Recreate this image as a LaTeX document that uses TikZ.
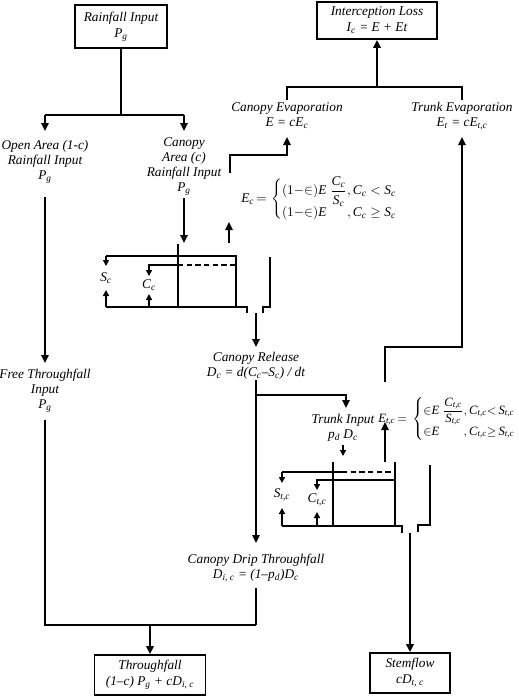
\documentclass[tikz,border=0pt]{standalone}
\usepackage{fontspec}
\setmainfont{Liberation Serif}
\usepackage{amsmath}
\usetikzlibrary{arrows.meta}
\newcommand{\mi}[1]{\text{\itshape #1}}
\newcommand{\ein}{\mathord{\in}}
\begin{document}
\begin{tikzpicture}[x=0.75pt,y=-0.75pt,
  lbl/.style={font=\itshape\fontsize{10}{11.3}\selectfont, align=center, inner sep=0pt},
  eqn/.style={font=\itshape\fontsize{10}{11}\selectfont, inner sep=0pt},
  tbox/.style={draw, line width=1.3pt, font=\itshape\fontsize{10}{12}\selectfont, align=center, inner sep=0pt},
  wall/.style={line width=1.1pt},
  flow/.style={line width=1.7pt, -{Triangle[length=6pt,width=5.5pt]}},
  small/.style={line width=1.3pt, -{Triangle[length=4.5pt,width=4.5pt]}},
  dashline/.style={line width=1.1pt, dash pattern=on 4pt off 2.5pt},
]
\useasboundingbox (0,0) rectangle (518,696);

% boxes
\node[tbox, minimum width=69pt, minimum height=32.25pt] (rain) at (121,26.5) {Rainfall Input\\P\textsubscript{g}};
\node[tbox, minimum width=90pt, minimum height=27.75pt] (inter) at (377,20.5) {Interception Loss\\I\textsubscript{c} = E + Et};
\node[tbox, minimum width=83.25pt, minimum height=30pt] (tf) at (150,675) {Throughfall\\(1--c) P\textsubscript{g} + cD\textsubscript{i, c}};
\node[tbox, minimum width=60pt, minimum height=30pt] (sf) at (410,673) {Stemflow\\cD\textsubscript{t, c}};

% labels
\node[lbl, anchor=north] (open) at (45,140) {Open Area (1-c)\\Rainfall Input\\P\textsubscript{g}};
\node[lbl, anchor=north] (canarea) at (184,137) {Canopy\\Area (c)\\Rainfall Input\\P\textsubscript{g}};
\node[lbl, anchor=north] (cevap) at (287,102) {Canopy Evaporation\\E = cE\textsubscript{c}};
\node[lbl, anchor=north] (tevap) at (462,102) {Trunk Evaporation\\E\textsubscript{t} = cE\textsubscript{t,c}};
\node[lbl, anchor=north] (crel) at (256,352) {Canopy Release\\D\textsubscript{c} = d(C\textsubscript{c}--S\textsubscript{c}) / dt};
\node[lbl, anchor=north] (tin) at (343,414) {Trunk Input\\p\textsubscript{d} D\textsubscript{c}};
\node[lbl, anchor=north] (free) at (45,369) {Free Throughfall\\Input\\P\textsubscript{g}};
\node[lbl, anchor=north] (drip) at (256,554) {Canopy Drip Throughfall\\D\textsubscript{i, c} = (1--p\textsubscript{d})D\textsubscript{c}};

% equations
\node[eqn, anchor=west] (eqc) at (241,199) {$\mi{E}_{\mi{c}}\,{=}\,\left\{\begin{array}{@{}l@{}l}(1{-}\ein)\mi{E}\;\dfrac{\mi{C}_{\mi{c}}}{\mi{S}_{\mi{c}}} & ,\mi{C}_{\mi{c}}\;{<}\;\mi{S}_{\mi{c}}\\[3pt](1{-}\ein)\mi{E} & ,\mi{C}_{\mi{c}}\;{\ge}\;\mi{S}_{\mi{c}}\end{array}\right.$};
\node[eqn, font=\itshape\fontsize{9.5}{11}\selectfont, anchor=west] (eqt) at (378,419) {$\mi{E}_{\mi{t,c}}\,{=}\;\left\{\begin{array}{@{}l@{}l}\ein\mi{E}\;\dfrac{\mi{C}_{\mi{t,c}}}{\mi{S}_{\mi{t,c}}} & ,\mi{C}_{\mi{t,c}}{<}\,\mi{S}_{\mi{t,c}}\\[2pt]\ein\mi{E} & ,\mi{C}_{\mi{t,c}}{\ge}\,\mi{S}_{\mi{t,c}}\end{array}\right.$};

% tank labels
\node[lbl] (Sc) at (106,278) {S\textsubscript{c}};
\node[lbl] (Cc) at (149,285) {C\textsubscript{c}};
\node[lbl] (Stc) at (282,495) {S\textsubscript{t,c}};
\node[lbl] (Ctc) at (317,500) {C\textsubscript{t,c}};

% top split
\coordinate (split) at (121,115);
\draw[wall] (rain.south) -- (split);
\draw[wall] (split -| open) -- (split -| canarea);
\draw[flow] (split -| open) -- (open.north |- 0,131);
\draw[flow] (split -| canarea) -- (canarea.north |- 0,131);

% left column
\draw[flow] (open.south |- 0,197) -- (free.north |- 0,363);
\draw[wall] (free.south |- 0,420) |- (drip.south |- 0,625) coordinate (tfjoin);
\draw[wall] (drip.south |- 0,588) -- (tfjoin);
\draw[flow] (tf.north |- 0,625) -- (tf.north);

% canopy input
\draw[flow] (canarea.south |- 0,198) -- (184,243);

% canopy tank
\draw[wall] (178,244) -- (178,307);
\draw[wall] (106,256) -- (236,256) -- (236,307);
\draw[wall] (106,307) -- (247,307) -- (247,313);
\draw[dashline] (178,265) -- (236,265);
\draw[small] (178,265) -| (149,276);
\draw[small] (106,256) -- (106,266);
\draw[small] (106,307) -- (106,290);
\draw[small] (149,307) -- (149,294);
\draw[wall] (270,257) -- (270,307) -- (263,307) -- (263,313);

% evaporation of canopy
\draw[flow] (229,243) -- (229,222);
\draw[flow] (230,173) |- (cevap.south |- 0,155) -- (cevap.south |- 0,137);

% to interception
\coordinate (ij) at (377,87);
\draw[wall] (cevap.north |- 0,100) -- (cevap.north |- ij) -- (tevap.north |- ij) -- (tevap.north |- 0,100);
\draw[flow] (ij) -- (inter.south);

% release
\draw[flow] (256,313) -- (crel.north |- 0,347);
\draw[flow] (crel.south |- 0,380) -- (drip.north |- 0,543);
\draw[flow] (crel.south |- 0,395) -| (346,408);
\draw[small] (tin.south |- 0,445) -- (tin.south |- 0,456);

% trunk tank
\draw[wall] (333,462) -- (333,526);
\draw[wall] (395,462) -- (395,526);
\draw[wall] (282,526) -- (402,526) -- (402,533);
\draw[wall] (282,472) -- (342,472);
\draw[dashline] (342,472) -- (395,472);
\draw[small] (395,480) -| (317,490);
\draw[small] (282,472) -- (282,483);
\draw[small] (282,526) -- (282,508);
\draw[small] (317,526) -- (317,512);
\draw[wall] (430,465) -- (430,525) -- (418,525) -- (418,532);

% trunk evaporation
\draw[flow] (385,462) -- (385,422);
\draw[flow] (385,382) |- (tevap.south |- 0,347) -- (tevap.south |- 0,137);

% stemflow
\draw[flow] (410,533) -- (sf.north);
\end{tikzpicture}
\end{document}
